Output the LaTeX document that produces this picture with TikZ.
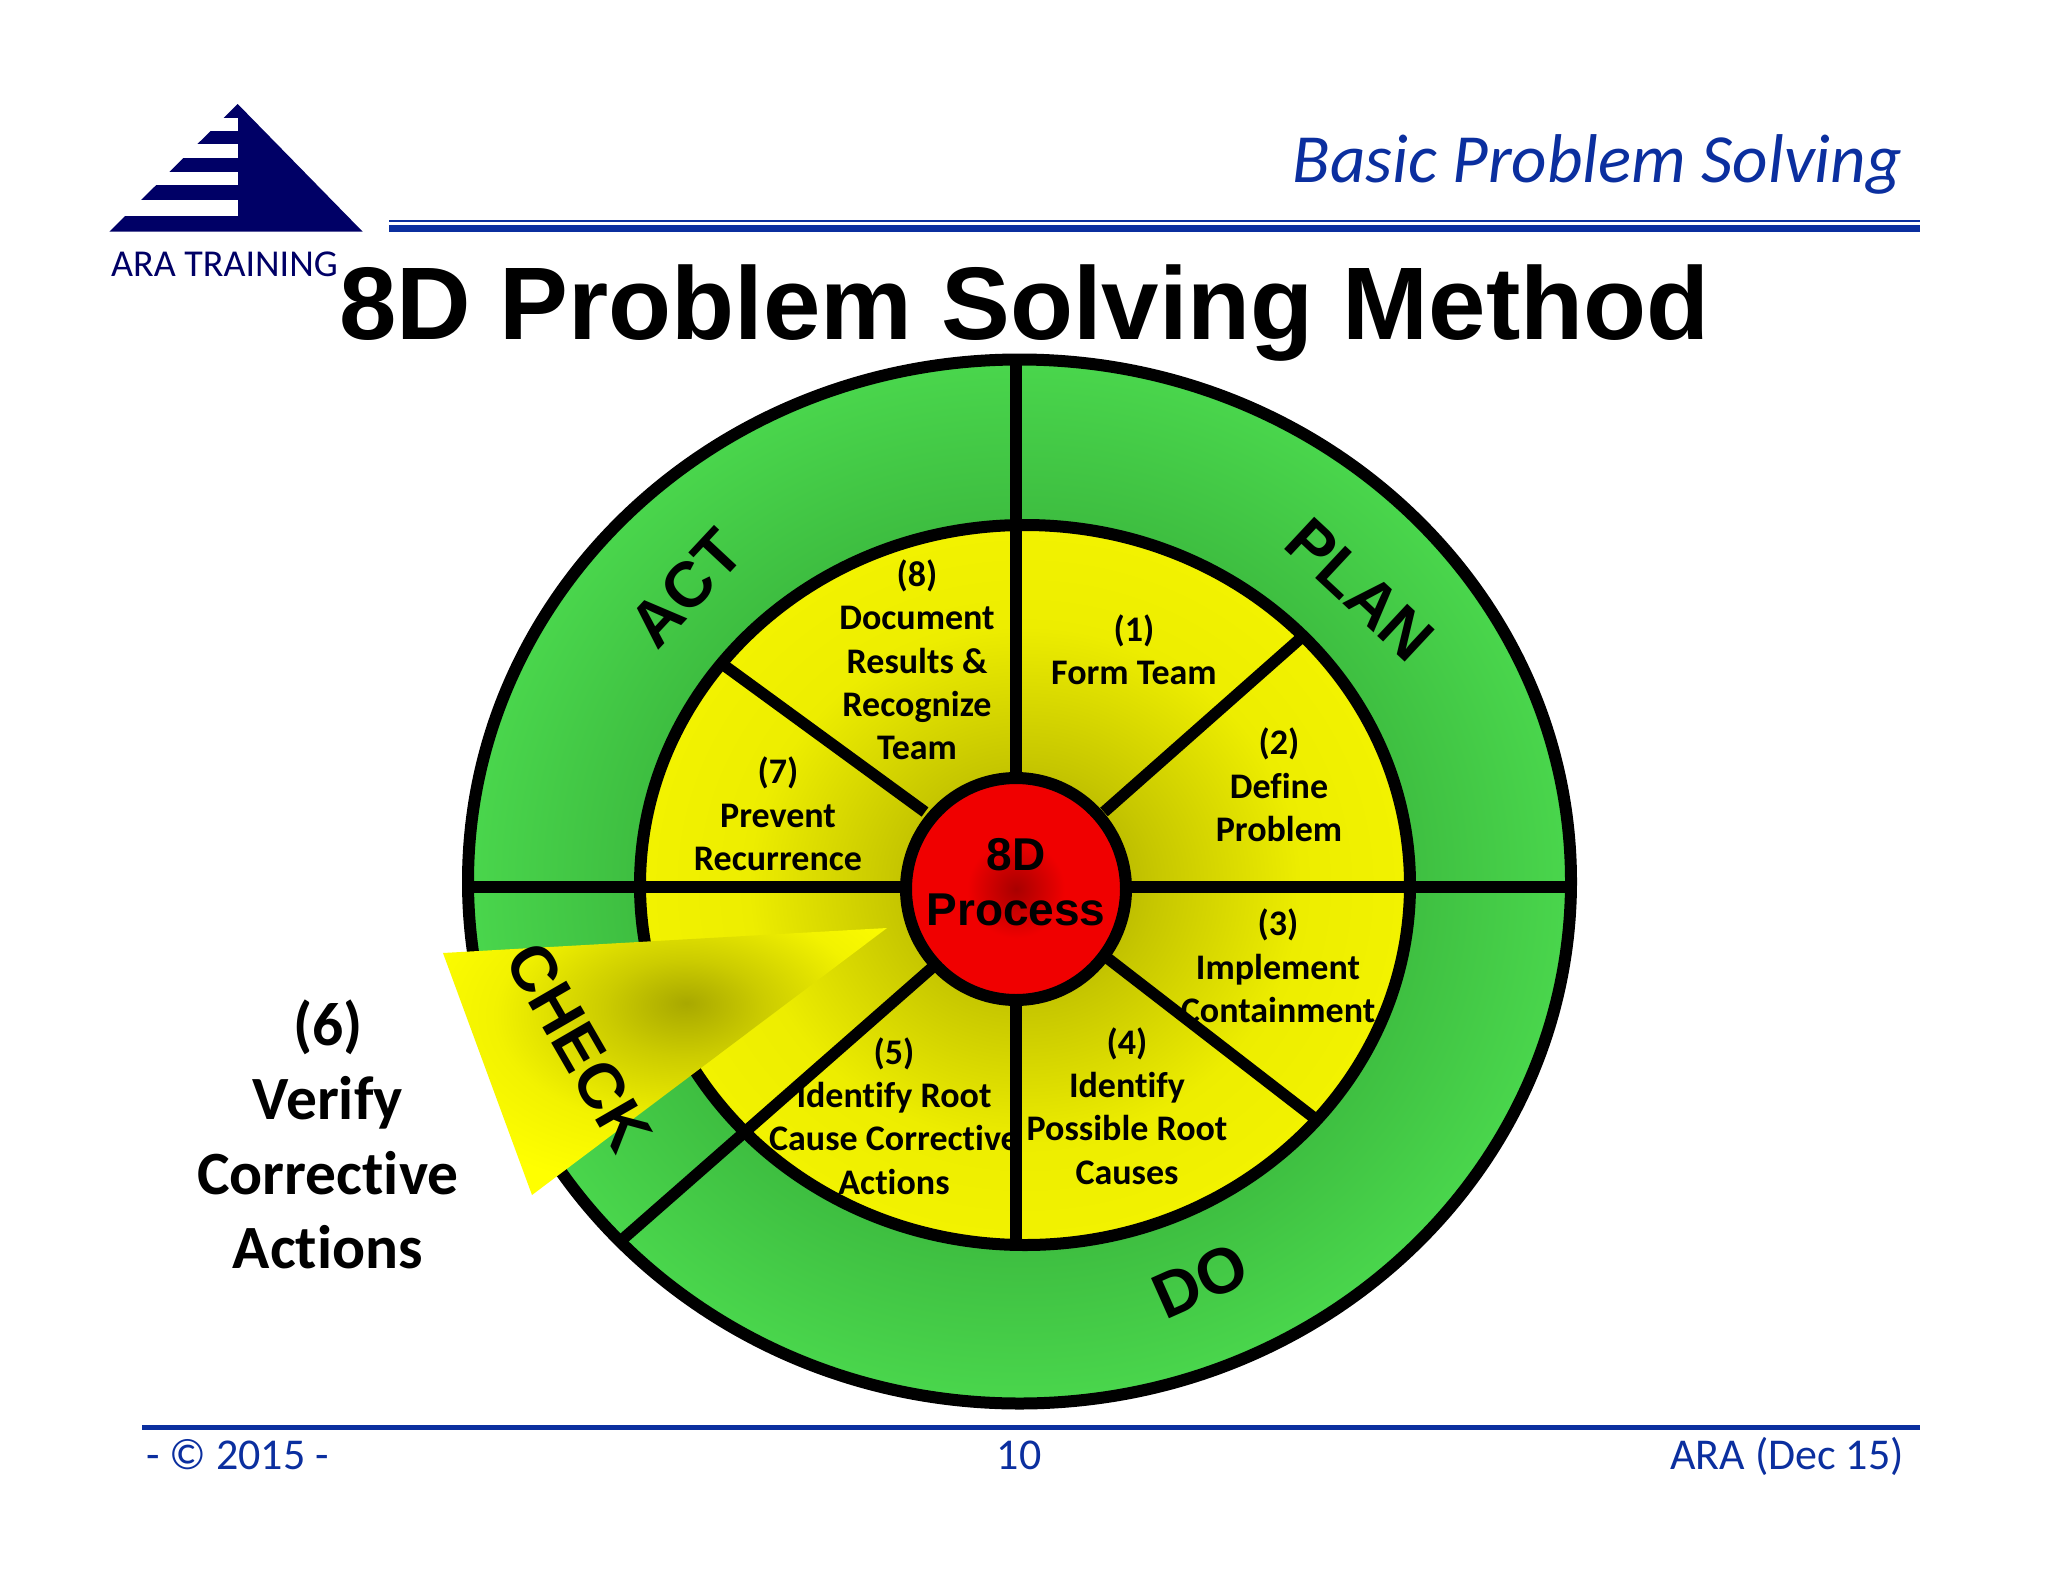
\documentclass[tikz,border=0pt]{standalone}
\usepackage{fontspec}
\setmainfont[Ligatures=NoCommon]{Carlito}
\newfontfamily\ari{Liberation Sans}
\definecolor{navy}{HTML}{000066}
\definecolor{rule}{HTML}{0B2F9F}
\pgfdeclareradialshading{grn}{\pgfpoint{0bp}{0bp}}{rgb(0bp)=(0.18,0.64,0.2);rgb(17bp)=(0.24,0.74,0.25);rgb(25bp)=(0.29,0.84,0.30);rgb(100bp)=(0.29,0.84,0.30)}
\pgfdeclareradialshading{yel}{\pgfpoint{0bp}{0bp}}{rgb(0bp)=(0.62,0.62,0);rgb(8.5bp)=(0.78,0.78,0);rgb(18bp)=(0.93,0.93,0);rgb(25bp)=(0.95,0.95,0);rgb(100bp)=(0.95,0.95,0)}
\pgfdeclareradialshading{redc}{\pgfpoint{0bp}{0bp}}{rgb(0bp)=(0.66,0,0);rgb(11bp)=(0.94,0,0);rgb(25bp)=(0.94,0,0);rgb(100bp)=(0.94,0,0)}
\pgfdeclareradialshading{wedge}{\pgfpoint{2.4bp}{11bp}}{rgb(0bp)=(0.66,0.66,0);rgb(9bp)=(0.8,0.8,0);rgb(21bp)=(0.95,0.95,0);rgb(32bp)=(1,1,0);rgb(100bp)=(1,1,0)}
\tikzset{
  ring/.style={draw=black,line width=12pt},
  spoke/.style={draw=black,line width=11.5pt},
  lab/.style={align=center,inner sep=0pt,font=\fontsize{36}{43.3}\selectfont\bfseries,text=black},
  pdca/.style={inner sep=0pt,font=\ari\fontsize{64}{64}\selectfont\bfseries,text=black},
  foot/.style={inner sep=0pt,font=\fontsize{44}{48}\selectfont,text=rule},
}
\begin{document}
\begin{tikzpicture}[x=1pt,y=-1pt]
\useasboundingbox (0,0) rectangle (2048,1582);
\fill[white] (0,0) rectangle (2048,1582);
% logo
\fill[navy] (237.7,104) -- (362.7,231.7) -- (109.3,231.7) -- cycle;
\fill[white] (100,118.3) rectangle (238,130.7);
\fill[white] (100,144.3) rectangle (238,157.7);
\fill[white] (100,171.7) rectangle (238,185.3);
\fill[white] (100,200.3) rectangle (238,216);
\node[anchor=base west,inner sep=0pt,text=navy,font=\fontsize{38}{40}\selectfont] (logo) at (111,276) {ARA TRAINING};
% header
\fill[rule] (389,220) rectangle (1920,222.3);
\fill[rule] (389,224.7) rectangle (1920,231.7);
\node[anchor=base east,inner sep=0pt,text=rule,font=\fontsize{69}{71}\selectfont\itshape] (subject) at (1902,182) {Basic Problem Solving};
\node[anchor=base west,inner sep=0pt,font=\ari\fontsize{103.2}{105}\selectfont\bfseries] (title) at (339,339) {8D Problem Solving Method};
% wheel
\coordinate (c) at (1016,886);
\shadedraw[shading=grn,ring] (1019.5,881.5) ellipse [x radius=551.5pt,y radius=522pt];
\shadedraw[shading=yel,ring] (1025,885) ellipse [x radius=385pt,y radius=360pt];
% spokes
\coordinate (top) at (1016,362);
\coordinate (lft) at (470,887);
\coordinate (rgt) at (1568,887);
\coordinate (bot) at (1016,1245);
\coordinate (s2a) at (1104,812);
\coordinate (s2b) at (1302,637);
\coordinate (s4a) at (1106,957);
\coordinate (s4b) at (1313,1117);
\coordinate (s6a) at (934,966);
\coordinate (s6b) at (624,1238);
\coordinate (s8a) at (925,812);
\coordinate (s8b) at (725,666);
\draw[spoke] (top) -- (c);
\draw[spoke] (lft) -- (rgt);
\draw[spoke] (c) -- (bot);
\draw[spoke] (s2a) -- (s2b);
\draw[spoke] (s4a) -- (s4b);
\draw[spoke] (s6a) -- (s6b);
\draw[spoke] (s8a) -- (s8b);
\shadedraw[shading=redc,ring] (1016,889) ellipse [x radius=110pt,y radius=111pt];
% sector labels
\node[lab] (n1) at (1134,650) {(1)\\Form Team};
\node[lab] (n2) at (1279,785) {(2)\\Define\\Problem};
\node[lab] (n3) at (1278,966) {(3)\\Implement\\Containment};
\node[lab] (n4) at (1127,1106) {(4)\\Identify\\Possible Root\\Causes};
\node[lab] (n5) at (894,1116) {(5)\\Identify Root\\Cause Corrective\\Actions};
\node[lab] (n7) at (778,814) {(7)\\Prevent\\Recurrence};
\node[lab] (n8) at (917,660) {(8)\\Document\\Results \&\\Recognize\\Team};
\node[inner sep=0pt,align=center,font=\ari\fontsize{46}{55}\selectfont\bfseries] (proc) at (1016,882) {8D\\Process};
\node[pdca,rotate=-43] (plan) at (1360,590) {PLAN};
\node[pdca,rotate=47] (act) at (686,588) {ACT};
\node[pdca,rotate=24] (do) at (1200,1281) {DO};
% callout wedge
\shade[shading=wedge] (887,928) -- (443,953) -- (532,1195) -- cycle;
\node[pdca,rotate=-60] (check) at (579,1047) {CHECK};
\node[align=center,inner sep=0pt,font=\fontsize{61.5}{74.5}\selectfont\bfseries] (n6) at (328,1134.5) {(6)\\Verify\\Corrective\\Actions};
% footer
\fill[rule] (142,1424.5) rectangle (1920,1429.5);
\node[foot,anchor=base west] (fl) at (146,1469) {- © 2015 -};
\node[foot,anchor=base] (fc) at (1019,1469) {10};
\node[foot,anchor=base east] (fr) at (1904,1469) {ARA (Dec 15)};
\end{tikzpicture}
\end{document}
